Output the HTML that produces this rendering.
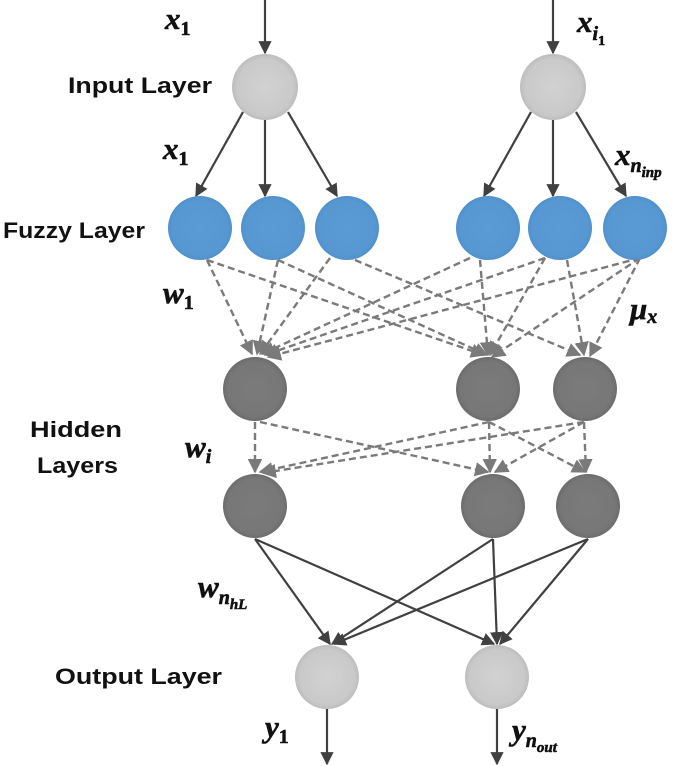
<!DOCTYPE html>
<html><head><meta charset="utf-8"><style>html,body{margin:0;padding:0;background:#fff}svg{display:block}</style></head>
<body>
<svg width="685" height="766" viewBox="0 0 685 766" xmlns="http://www.w3.org/2000/svg">
<defs>
<radialGradient id="gL" cx="0.5" cy="0.5" r="0.5"><stop offset="0" stop-color="#d2d2d2"/><stop offset="0.85" stop-color="#c9c9c9"/><stop offset="1" stop-color="#bdbdbd"/></radialGradient>
<radialGradient id="gB" cx="0.5" cy="0.5" r="0.5"><stop offset="0" stop-color="#5b9bd5"/><stop offset="0.85" stop-color="#5898d2"/><stop offset="1" stop-color="#5090cc"/></radialGradient>
<radialGradient id="gD" cx="0.5" cy="0.5" r="0.5"><stop offset="0" stop-color="#7b7b7b"/><stop offset="0.85" stop-color="#777"/><stop offset="1" stop-color="#6c6c6c"/></radialGradient>
<marker id="aS" viewBox="0 0 10 10" refX="9" refY="5" markerWidth="6" markerHeight="6" orient="auto"><path d="M0,0 L10,5 L0,10 z" fill="#404040"/></marker>
<marker id="aD" viewBox="0 0 10 10" refX="9" refY="5" markerWidth="6" markerHeight="6" orient="auto"><path d="M0,0 L10,5 L0,10 z" fill="#7a7a7a"/></marker>
</defs>

<g stroke="#404040" stroke-width="2.2" fill="none" marker-end="url(#aS)">
<line x1="265" y1="0" x2="265" y2="53"/>
<line x1="553" y1="0" x2="553" y2="53"/>
<line x1="243" y1="112" x2="196" y2="196"/>
<line x1="265" y1="120" x2="265" y2="196"/>
<line x1="288" y1="112" x2="337" y2="196"/>
<line x1="531" y1="112" x2="484" y2="196"/>
<line x1="553" y1="120" x2="553" y2="196"/>
<line x1="576" y1="112" x2="626" y2="196"/>
<line x1="255" y1="539" x2="330" y2="644"/>
<line x1="255" y1="539" x2="494" y2="644"/>
<line x1="493" y1="539" x2="332" y2="644"/>
<line x1="493" y1="539" x2="497" y2="644"/>
<line x1="588" y1="539" x2="334" y2="644"/>
<line x1="588" y1="539" x2="500" y2="644"/>
<line x1="327" y1="709" x2="327" y2="764"/>
<line x1="497" y1="709" x2="497" y2="764"/>
</g>

<g stroke="#7a7a7a" stroke-width="2.4" fill="none" stroke-dasharray="7,4" marker-end="url(#aD)">
<line x1="207" y1="260" x2="252" y2="354"/>
<line x1="207" y1="260" x2="484" y2="355"/>
<line x1="278" y1="260" x2="257" y2="354"/>
<line x1="278" y1="260" x2="487" y2="355"/>
<line x1="330" y1="258" x2="260" y2="354"/>
<line x1="355" y1="260" x2="580" y2="355"/>
<line x1="470" y1="258" x2="262" y2="354"/>
<line x1="480" y1="260" x2="488" y2="355"/>
<line x1="545" y1="258" x2="265" y2="355"/>
<line x1="545" y1="258" x2="490" y2="355"/>
<line x1="567" y1="260" x2="584" y2="355"/>
<line x1="640" y1="258" x2="268" y2="357"/>
<line x1="640" y1="258" x2="492" y2="357"/>
<line x1="640" y1="258" x2="590" y2="356"/>
<line x1="255" y1="422" x2="255" y2="472"/>
<line x1="260" y1="422" x2="488" y2="472"/>
<line x1="489" y1="422" x2="260" y2="472"/>
<line x1="489" y1="422" x2="490" y2="472"/>
<line x1="489" y1="422" x2="585" y2="472"/>
<line x1="584" y1="422" x2="263" y2="473"/>
<line x1="584" y1="422" x2="495" y2="472"/>
<line x1="584" y1="422" x2="586" y2="472"/>
</g>

<g>
<circle cx="265" cy="87" r="33" fill="url(#gL)"/>
<circle cx="553" cy="87" r="33" fill="url(#gL)"/>
<circle cx="200" cy="228" r="32" fill="url(#gB)"/>
<circle cx="273" cy="228" r="32" fill="url(#gB)"/>
<circle cx="347" cy="228" r="32" fill="url(#gB)"/>
<circle cx="488" cy="228" r="32" fill="url(#gB)"/>
<circle cx="560" cy="228" r="32" fill="url(#gB)"/>
<circle cx="635" cy="228" r="32" fill="url(#gB)"/>
<circle cx="255" cy="389" r="32" fill="url(#gD)"/>
<circle cx="488" cy="389" r="32" fill="url(#gD)"/>
<circle cx="585" cy="389" r="32" fill="url(#gD)"/>
<circle cx="255" cy="506" r="32" fill="url(#gD)"/>
<circle cx="493" cy="506" r="32" fill="url(#gD)"/>
<circle cx="588" cy="506" r="32" fill="url(#gD)"/>
<circle cx="327" cy="677" r="32" fill="url(#gL)"/>
<circle cx="497" cy="677" r="32" fill="url(#gL)"/>
</g>

<g font-family="Liberation Sans, sans-serif" font-weight="bold" font-size="22" fill="#111">
<text x="68" y="93" textLength="144" lengthAdjust="spacingAndGlyphs">Input Layer</text>
<text x="3" y="238" textLength="142" lengthAdjust="spacingAndGlyphs">Fuzzy Layer</text>
<text x="30" y="437" textLength="92" lengthAdjust="spacingAndGlyphs">Hidden</text>
<text x="37" y="473" textLength="81" lengthAdjust="spacingAndGlyphs">Layers</text>
<text x="55" y="684" textLength="167" lengthAdjust="spacingAndGlyphs">Output Layer</text>
</g>

<g font-family="Liberation Serif, serif" font-weight="bold" font-style="italic" font-size="31" fill="#111" stroke="#111" stroke-width="0.6">
<text x="165" y="29">x<tspan font-size="20" dy="6" font-style="normal">1</tspan></text>
<text x="163" y="159">x<tspan font-size="20" dy="6" font-style="normal">1</tspan></text>
<text x="577" y="32">x<tspan font-size="20" dy="8">i</tspan><tspan font-size="14" dy="5" font-style="normal">1</tspan></text>
<text x="615" y="165">x<tspan font-size="20" dy="7">n</tspan><tspan font-size="15" dy="5">inp</tspan></text>
<text x="163" y="303">w<tspan font-size="20" dy="6" font-style="normal">1</tspan></text>
<text x="630" y="319">μ<tspan font-size="20" dy="4">x</tspan></text>
<text x="185" y="457">w<tspan font-size="20" dy="6">i</tspan></text>
<text x="198" y="597">w<tspan font-size="20" dy="7">n</tspan><tspan font-size="15" dy="5">hL</tspan></text>
<text x="265" y="737">y<tspan font-size="20" dy="6" font-style="normal">1</tspan></text>
<text x="512" y="740">y<tspan font-size="20" dy="7">n</tspan><tspan font-size="15" dy="5">out</tspan></text>
</g>
</svg>
</body></html>
